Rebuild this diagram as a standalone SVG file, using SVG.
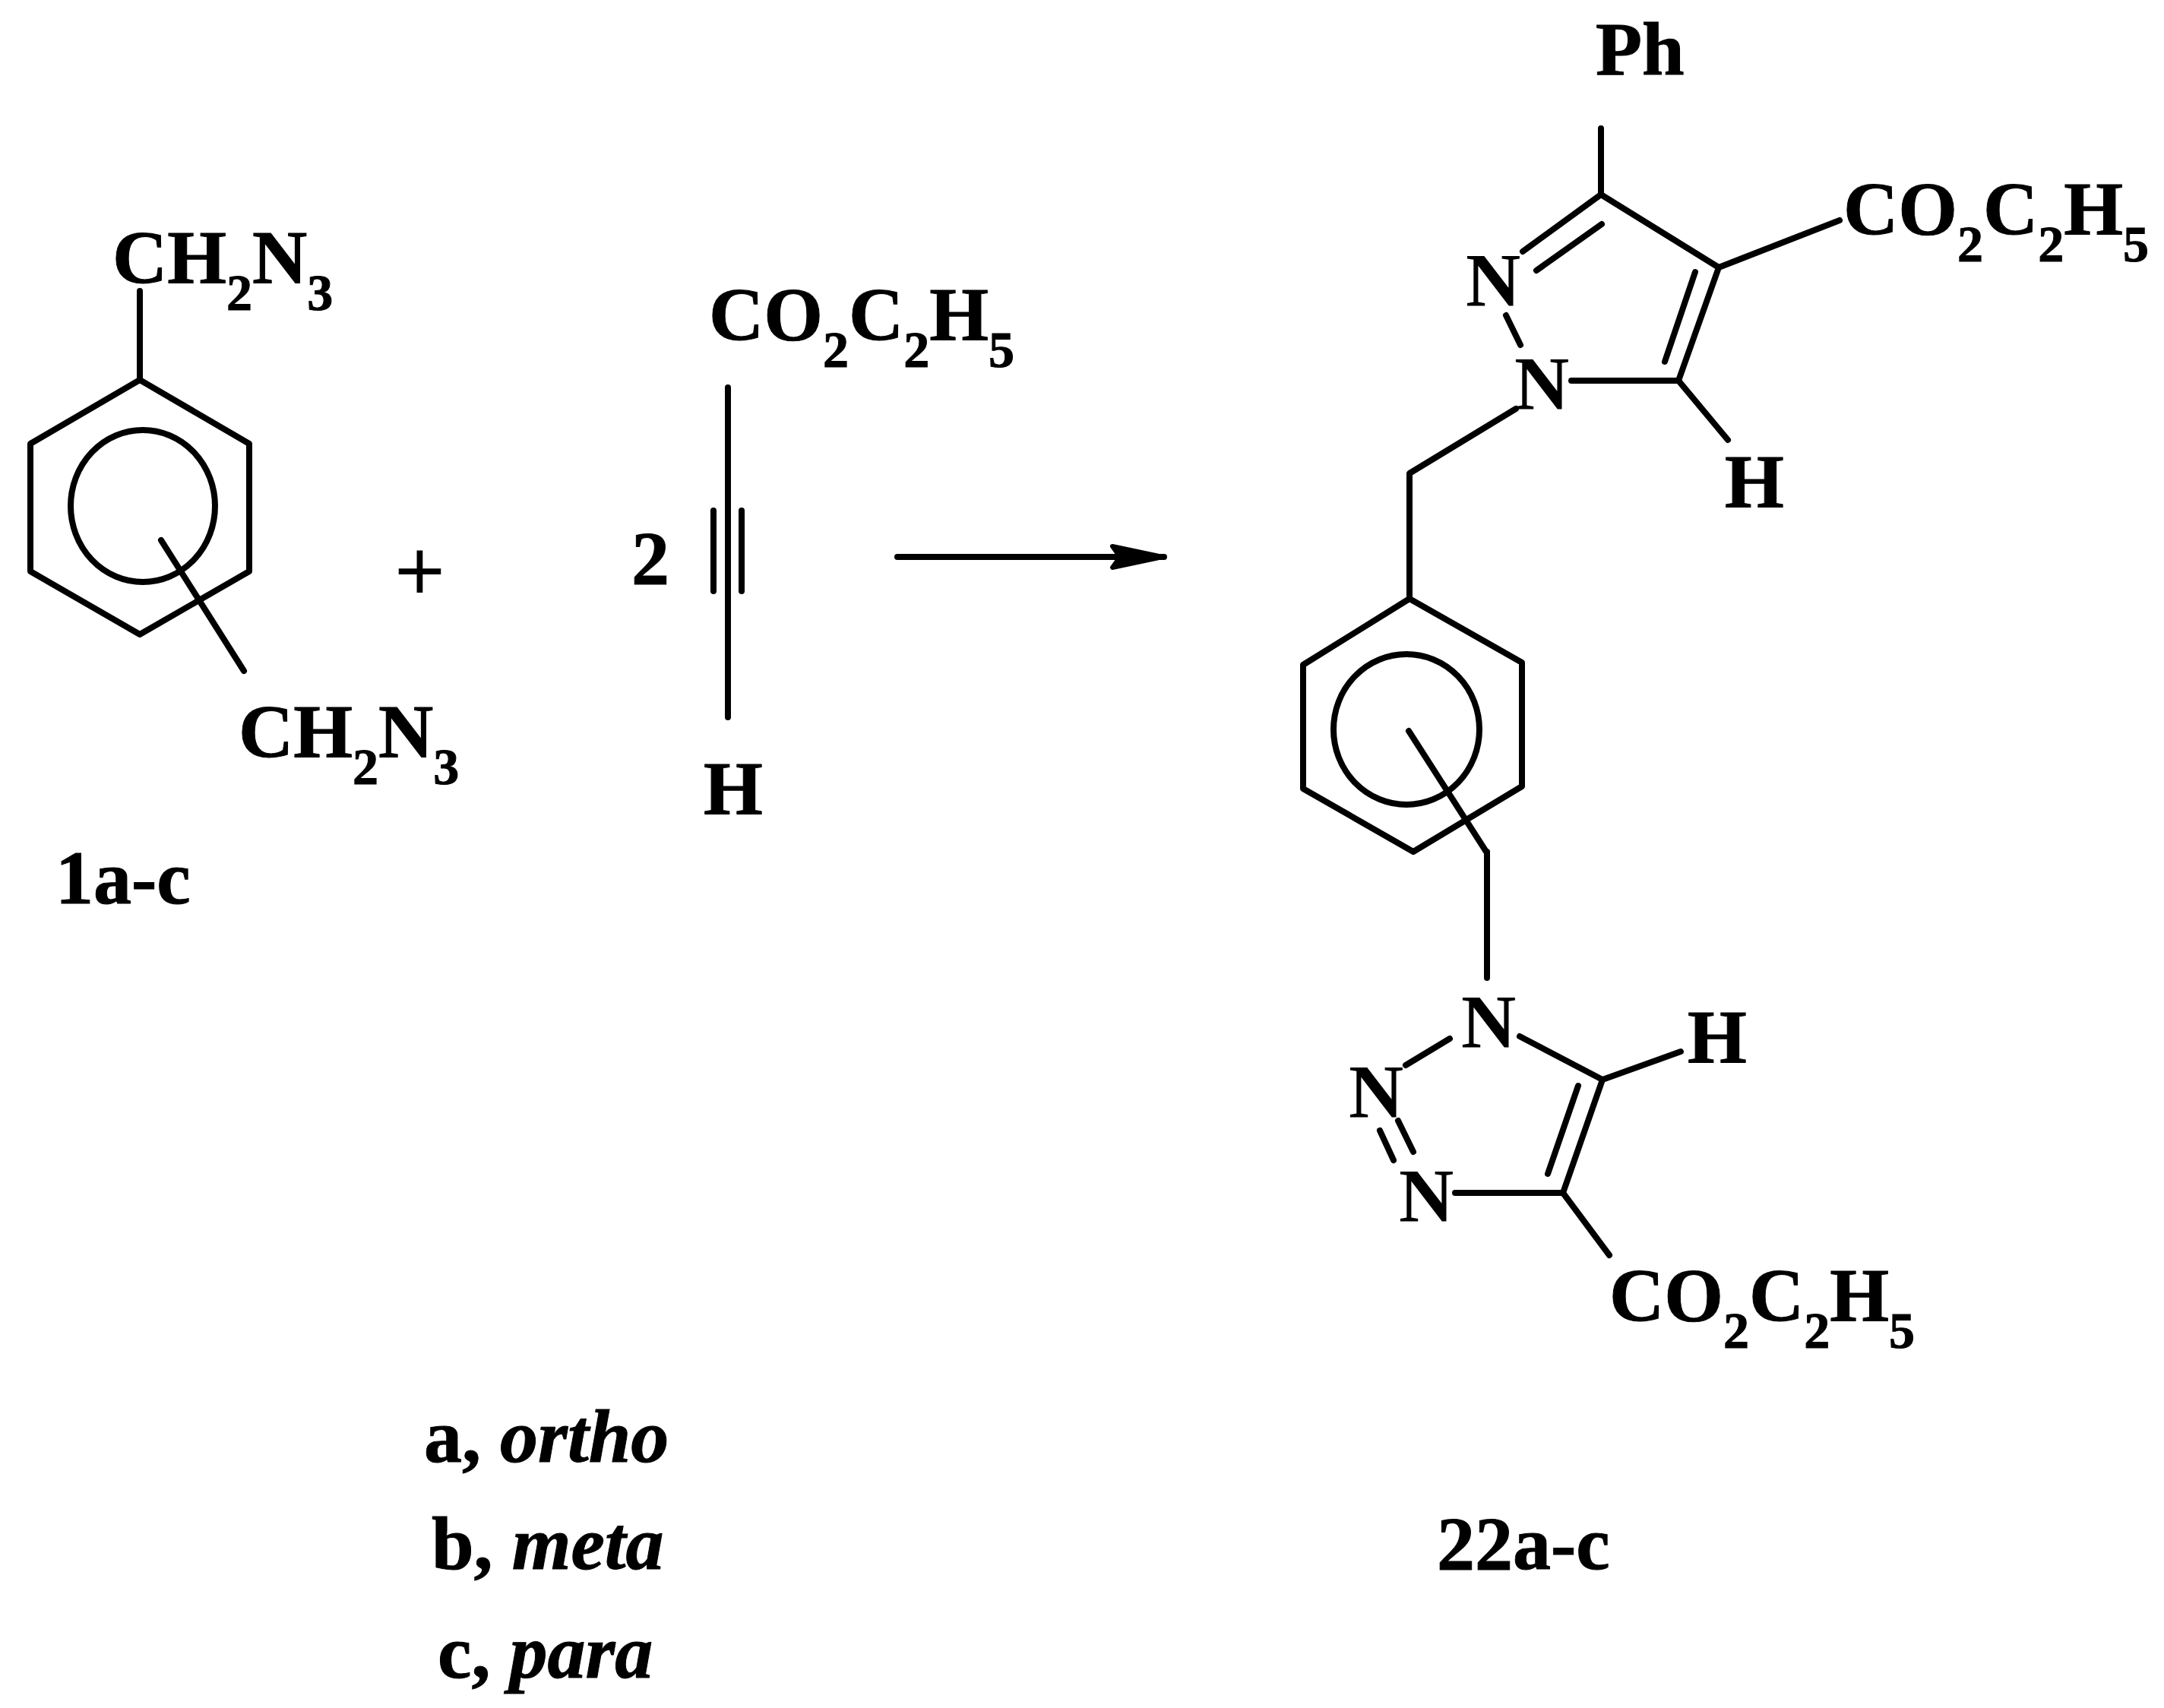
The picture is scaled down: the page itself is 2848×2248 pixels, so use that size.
<svg xmlns="http://www.w3.org/2000/svg" width="2848" height="2248" viewBox="0 0 2848 2248">
<style>
.b{fill:none;stroke:#000;stroke-width:8;stroke-linecap:round;stroke-linejoin:round}
text{font-family:"Liberation Serif","Times New Roman",serif;font-weight:bold;font-size:100px;fill:#000;stroke:#000;stroke-width:1}
.s{font-size:68px}
.n{font-weight:normal;font-size:115px;stroke-width:2}
.a{stroke:none}
.i{font-style:italic}
</style>
<defs><marker id="ah" markerUnits="userSpaceOnUse" markerWidth="80" markerHeight="44" refX="74" refY="20" orient="auto"><path d="M6 6L72 20L6 34L16 20Z" fill="#000" stroke="#000" stroke-width="6" stroke-linejoin="round"/></marker></defs>
<rect width="2848" height="2248" fill="#fff"/>
<g id="connectors">
<path class="b" d="M184 383V500"/>
<path class="b" d="M212 711L321 883"/>
<path class="b" d="M958 510V944M939 672V778M976 672V778"/>
<path class="b" d="M1181 733H1532" marker-end="url(#ah)"/>
<path class="b" d="M2107 169V256M2262 352L2421 290M2209 501L2274 579M1995 538L1855 623V788"/>
<path class="b" d="M1854 962L1956 1121M1957 1121V1287"/>
<path class="b" d="M2109 1421L2212 1384M2057 1570L2118 1652"/>
</g>
<g id="benzene-1"><path class="b" d="M184 500L328 584V752L184 835L40 752V584Z"/><ellipse class="b" cx="188" cy="666" rx="95" ry="100"/></g>
<g id="azide-1"><text x="148" y="372">CH<tspan class="s" dy="36">2</tspan><tspan dy="-36">N</tspan><tspan class="s" dy="36">3</tspan></text></g>
<g id="azide-2"><text x="314" y="996">CH<tspan class="s" dy="36">2</tspan><tspan dy="-36">N</tspan><tspan class="s" dy="36">3</tspan></text></g>
<g id="label-1ac"><text x="73" y="1189">1a-c</text></g>
<g id="plus"><text class="n" x="520" y="790">+</text></g>
<g id="coef"><text x="831" y="768">2</text></g>
<g id="alkyne-top"><text x="933" y="447">CO<tspan class="s" dy="36">2</tspan><tspan dy="-36">C</tspan><tspan class="s" dy="36">2</tspan><tspan dy="-36">H</tspan><tspan class="s" dy="36">5</tspan></text></g>
<g id="alkyne-h"><text x="926" y="1071">H</text></g>
<g id="pyrazole"><path class="b" d="M2004 331L2107 256L2262 352L2209 501H2068M2108 295L2022 356M2231 358L2191 476M1982 415L2001 454"/>
<text x="2100" y="98">Ph</text><text class="a" x="1929" y="402">N</text><text class="a" x="1993" y="538">N</text>
<text x="2426" y="308">CO<tspan class="s" dy="36">2</tspan><tspan dy="-36">C</tspan><tspan class="s" dy="36">2</tspan><tspan dy="-36">H</tspan><tspan class="s" dy="36">5</tspan></text>
<text x="2270" y="667">H</text></g>
<g id="benzene-2"><path class="b" d="M1855 788L2003 872V1035L1860 1121L1715 1038V875Z"/><ellipse class="b" cx="1851" cy="960" rx="96" ry="99"/></g>
<g id="triazole"><path class="b" d="M1908 1367L1850 1402M1816 1488L1834 1527M1840 1475L1860 1516M1915 1570H2057L2109 1421L2000 1364M2077 1429L2037 1545"/>
<text class="a" x="1923" y="1378">N</text><text class="a" x="1775" y="1470">N</text><text class="a" x="1841" y="1607">N</text>
<text x="2221" y="1398">H</text>
<text x="2118" y="1738">CO<tspan class="s" dy="36">2</tspan><tspan dy="-36">C</tspan><tspan class="s" dy="36">2</tspan><tspan dy="-36">H</tspan><tspan class="s" dy="36">5</tspan></text></g>
<g id="legend"><text x="558" y="1924">a, <tspan class="i">ortho</tspan></text><text x="568" y="2065">b, <tspan class="i">meta</tspan></text><text x="576" y="2208">c, <tspan class="i">para</tspan></text></g>
<g id="label-22ac"><text x="1891" y="2065">22a-c</text></g>
</svg>
